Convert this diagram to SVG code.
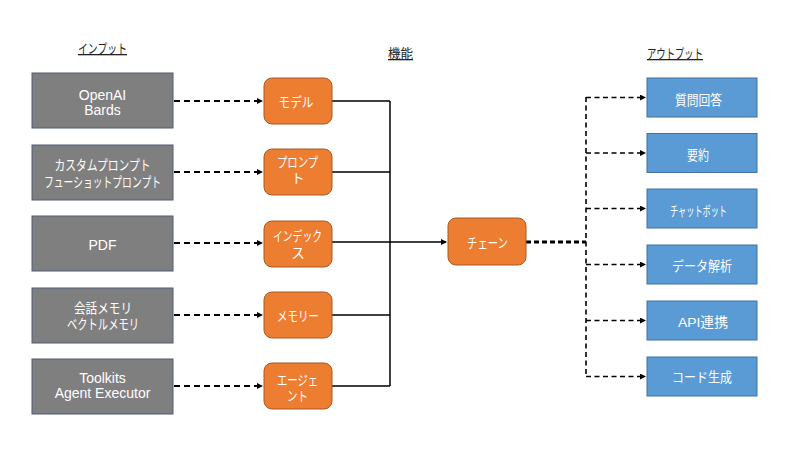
<svg xmlns="http://www.w3.org/2000/svg" width="800" height="451" viewBox="0 0 800 451">
<style>
text{font-family:"Liberation Sans","Noto Sans CJK JP",sans-serif;text-anchor:middle}
.in rect{fill:#7f7f7f;stroke:#4f5d73;stroke-width:1}
.fn rect{fill:#ed7d31;stroke:#a65a26;stroke-width:1}
.out rect{fill:#5b9bd5;stroke:#41719c;stroke-width:1}
.in text{fill:#fff;font-size:14px}
.in text.j{font-size:14px}
.fn text{fill:#fff;font-size:13.5px}
.out text{fill:#fff;font-size:13.5px}
.hd{fill:#222;font-size:13px;text-decoration:underline}
.dash{stroke:#000;stroke-width:2;stroke-dasharray:6 4;fill:none}
.dash2{stroke:#000;stroke-width:1.6;stroke-dasharray:5 3.5;fill:none}
.solid{stroke:#000;stroke-width:1.5;fill:none}
</style>
<defs>
<marker id="ah" markerWidth="6" markerHeight="6" refX="5" refY="3" orient="auto" markerUnits="userSpaceOnUse">
<path d="M0,0 L6,3 L0,6 z" fill="#000"/>
</marker>
</defs>
<rect width="800" height="451" fill="#fff"/>
<g id="headers">
<text class="hd" x="102.5" y="53" textLength="49" lengthAdjust="spacingAndGlyphs">インプット</text>
<text class="hd" x="400.5" y="58" textLength="25" lengthAdjust="spacingAndGlyphs">機能</text>
<text class="hd" x="675" y="58" textLength="56" lengthAdjust="spacingAndGlyphs">アウトプット</text>
</g>
<g id="connectors">
<path class="dash" d="M174,101 H262" marker-end="url(#ah)"/>
<path class="dash" d="M174,172 H262" marker-end="url(#ah)"/>
<path class="dash" d="M174,243 H262" marker-end="url(#ah)"/>
<path class="dash" d="M174,315 H262" marker-end="url(#ah)"/>
<path class="dash" d="M174,386 H262" marker-end="url(#ah)"/>
<path class="solid" d="M332,101 H390 M332,172 H390 M332,242 H390 M332,315 H390 M332,386 H390 M390,101 V386"/>
<path class="solid" d="M390,242 H446" marker-end="url(#ah)"/>
<path d="M526,242 H586" stroke="#000" stroke-width="3" stroke-dasharray="5 3" fill="none"/>
<path class="dash2" d="M586,97 V377"/>
<path class="dash2" d="M586,97.5 H645" marker-end="url(#ah)"/>
<path class="dash2" d="M586,153 H645" marker-end="url(#ah)"/>
<path class="dash2" d="M586,208.5 H645" marker-end="url(#ah)"/>
<path class="dash2" d="M586,264.5 H645" marker-end="url(#ah)"/>
<path class="dash2" d="M586,320.5 H645" marker-end="url(#ah)"/>
<path class="dash2" d="M586,376.5 H645" marker-end="url(#ah)"/>
</g>
<g id="in1" class="in"><rect x="32" y="73" width="141" height="55"/><text x="102.5" y="100">OpenAI</text><text x="102.5" y="114.5">Bards</text></g>
<g id="in2" class="in"><rect x="32" y="145" width="141" height="55"/><text class="j" x="102.5" y="170" textLength="96" lengthAdjust="spacingAndGlyphs">カスタムプロンプト</text><text class="j" x="102.5" y="186.5" textLength="117" lengthAdjust="spacingAndGlyphs">フューショットプロンプト</text></g>
<g id="in3" class="in"><rect x="32" y="216" width="141" height="55"/><text x="102.5" y="249.5">PDF</text></g>
<g id="in4" class="in"><rect x="32" y="288" width="141" height="55"/><text class="j" x="103" y="313" textLength="58" lengthAdjust="spacingAndGlyphs">会話メモリ</text><text class="j" x="103" y="329" textLength="72" lengthAdjust="spacingAndGlyphs">ベクトルメモリ</text></g>
<g id="in5" class="in"><rect x="32" y="359" width="141" height="55"/><text x="102.5" y="383">Toolkits</text><text x="102.5" y="398">Agent Executor</text></g>
<g id="fn1" class="fn"><rect x="264" y="78" width="68" height="46" rx="8"/><text x="296" y="106.5" textLength="35" lengthAdjust="spacingAndGlyphs">モデル</text></g>
<g id="fn2" class="fn"><rect x="264" y="149" width="68" height="46" rx="8"/><text x="297.5" y="167" textLength="41" lengthAdjust="spacingAndGlyphs">プロンプ</text><text x="298" y="183">ト</text></g>
<g id="fn3" class="fn"><rect x="264" y="221" width="68" height="46" rx="8"/><text x="297.5" y="241" textLength="49" lengthAdjust="spacingAndGlyphs">インデック</text><text x="298" y="258">ス</text></g>
<g id="fn4" class="fn"><rect x="264" y="292" width="68" height="46" rx="8"/><text x="298" y="320.5" textLength="42" lengthAdjust="spacingAndGlyphs">メモリー</text></g>
<g id="fn5" class="fn"><rect x="264" y="363" width="68" height="46" rx="8"/><text x="297.5" y="384.5" textLength="41" lengthAdjust="spacingAndGlyphs">エージェ</text><text x="297.5" y="400.5" textLength="21" lengthAdjust="spacingAndGlyphs">ント</text></g>
<g id="chain" class="fn"><rect x="448" y="218" width="78" height="47" rx="8"/><text x="487.5" y="247.5" textLength="41" lengthAdjust="spacingAndGlyphs">チェーン</text></g>
<g id="out1" class="out"><rect x="647" y="78" width="110" height="39"/><text x="698.5" y="104.5" textLength="47" lengthAdjust="spacingAndGlyphs">質問回答</text></g>
<g id="out2" class="out"><rect x="647" y="133.5" width="110" height="39"/><text x="698" y="159.5" textLength="22" lengthAdjust="spacingAndGlyphs">要約</text></g>
<g id="out3" class="out"><rect x="647" y="189" width="110" height="39"/><text x="698.5" y="216" textLength="57" lengthAdjust="spacingAndGlyphs">チャットボット</text></g>
<g id="out4" class="out"><rect x="647" y="245" width="110" height="39"/><text x="702" y="270.5" textLength="60" lengthAdjust="spacingAndGlyphs">データ解析</text></g>
<g id="out5" class="out"><rect x="647" y="301" width="110" height="39"/><text x="703" y="326.5" textLength="50" lengthAdjust="spacingAndGlyphs">API連携</text></g>
<g id="out6" class="out"><rect x="647" y="357" width="110" height="39"/><text x="702" y="382" textLength="60" lengthAdjust="spacingAndGlyphs">コード生成</text></g>
</svg>
